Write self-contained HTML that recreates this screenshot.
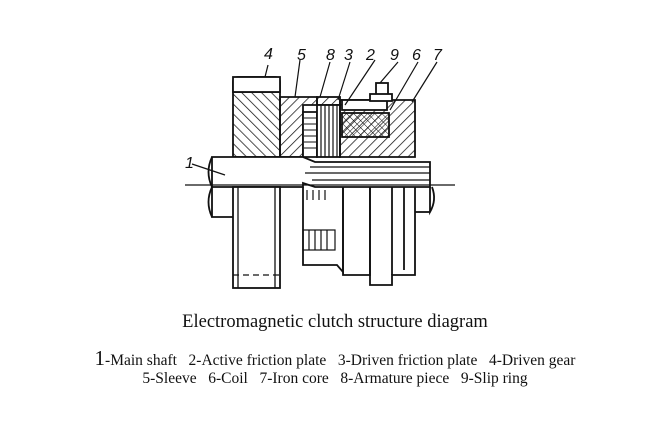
<!DOCTYPE html>
<html><head><style>
body{margin:0;background:#fff;width:650px;height:421px;overflow:hidden;font-family:"Liberation Serif",serif;color:#111}
.t{position:absolute;left:10px;width:650px;text-align:center;white-space:nowrap}
</style></head><body>
<svg width="650" height="421" style="position:absolute;left:0;top:0">
<defs>
<pattern id="h" width="7" height="7" patternUnits="userSpaceOnUse" patternTransform="rotate(45)"><line x1="0" y1="0" x2="0" y2="7" stroke="#111" stroke-width="1.5"/></pattern>
<pattern id="h2" width="7" height="7" patternUnits="userSpaceOnUse" patternTransform="rotate(-45)"><line x1="0" y1="0" x2="0" y2="7" stroke="#111" stroke-width="1.5"/></pattern>
<pattern id="x" width="5" height="5" patternUnits="userSpaceOnUse" patternTransform="rotate(45)"><path d="M0 0V5M0 0H5" stroke="#111" stroke-width="1.1"/></pattern>
</defs>
<g stroke="#111" stroke-width="1.8" fill="none">
<path d="M233 157V82Q233 77 238 77H275Q280 77 280 82V157Z" fill="url(#h2)"/>
<line x1="233" y1="92" x2="280" y2="92"/>
<rect x="233" y="77" width="47" height="15" fill="#fff"/>
<path d="M280 97H317V105H303V157H280Z" fill="url(#h)"/>
<path d="M303 112H317V157H303Z" fill="#fff"/>
<g stroke-width="1">
<line x1="304" y1="118" x2="316" y2="118"/><line x1="304" y1="124" x2="316" y2="124"/><line x1="304" y1="130" x2="316" y2="130"/><line x1="304" y1="136" x2="316" y2="136"/><line x1="304" y1="142" x2="316" y2="142"/><line x1="304" y1="148" x2="316" y2="148"/>
</g>
<rect x="317" y="97" width="23" height="8" fill="url(#h)"/>
<rect x="317" y="105" width="23" height="52" fill="#fff"/>
<g stroke-width="1.2"><line x1="321" y1="105" x2="321" y2="157"/><line x1="325" y1="105" x2="325" y2="157"/><line x1="329" y1="105" x2="329" y2="157"/><line x1="333" y1="105" x2="333" y2="157"/><line x1="337" y1="105" x2="337" y2="157"/></g>
<path d="M340 100H415V157H340Z" fill="url(#h)"/>
<rect x="342" y="113" width="47" height="24" fill="url(#x)"/>
<rect x="342" y="100" width="45" height="10" fill="#fff"/>
<rect x="376" y="83" width="12" height="14" fill="#fff"/>
<rect x="370" y="94" width="22" height="7" fill="#fff"/>
<path d="M212 157H303L315 162H430V187H315L303 183V187H212Z" fill="#fff"/>
<g stroke-width="1.2"><line x1="310" y1="167" x2="430" y2="167"/><line x1="305" y1="173" x2="430" y2="173"/><line x1="312" y1="180" x2="430" y2="180"/></g>
<path d="M212 157Q205 172 212 187" />
<path d="M212 187V217H233"/>
<path d="M212 187Q205 202 212 217"/>
<path d="M430 187V212Q437 200 432 187"/>
<path d="M415 212H430"/>
<line x1="185" y1="185" x2="455" y2="185" stroke-width="1.3"/>
<rect x="233" y="187" width="47" height="101" fill="#fff"/>
<line x1="238" y1="187" x2="238" y2="288" stroke-width="1.3"/>
<line x1="275" y1="187" x2="275" y2="288" stroke-width="1.3"/>
<line x1="233" y1="275" x2="280" y2="275" stroke-dasharray="6 4" stroke-width="1.2"/>
<path d="M303 187V265H337L343 272V187"/>
<path d="M343 187V275H370V187"/>
<path d="M370 187V285H392V275H415V187"/>
<path d="M392 187V275"/>
<path d="M404 187V270"/>
<g stroke-width="1.2">
<line x1="307" y1="190" x2="307" y2="200"/><line x1="313" y1="190" x2="313" y2="200"/><line x1="319" y1="190" x2="319" y2="200"/><line x1="325" y1="190" x2="325" y2="200"/>
<rect x="303" y="230" width="32" height="20"/>
<line x1="309" y1="230" x2="309" y2="250"/><line x1="315" y1="230" x2="315" y2="250"/><line x1="321" y1="230" x2="321" y2="250"/><line x1="327" y1="230" x2="327" y2="250"/>
</g>
<g stroke-width="1.2">
<line x1="192" y1="164" x2="225" y2="175"/>
<line x1="268" y1="65" x2="265" y2="77"/>
<line x1="300" y1="60" x2="295" y2="97"/>
<line x1="330" y1="62" x2="320" y2="97"/>
<line x1="350" y1="62" x2="338" y2="100"/>
<line x1="375" y1="60" x2="345" y2="105"/>
<line x1="398" y1="62" x2="380" y2="83"/>
<line x1="418" y1="62" x2="390" y2="110"/>
<line x1="437" y1="62" x2="412" y2="102"/>
</g>
</g>
<g font-family="Liberation Sans,sans-serif" font-style="italic" font-size="16" fill="#111">
<text x="185" y="168">1</text>
<text x="264" y="59">4</text>
<text x="297" y="60">5</text>
<text x="326" y="60">8</text>
<text x="344" y="60">3</text>
<text x="366" y="60">2</text>
<text x="390" y="60">9</text>
<text x="412" y="60">6</text>
<text x="433" y="60">7</text>
</g>
</svg>
<div class="t" style="top:312px;font-size:18.5px">Electromagnetic clutch structure diagram</div>
<div class="t" style="top:346px;font-size:15.5px"><span style="font-size:21px">1</span>-Main shaft&nbsp;&nbsp; 2-Active friction plate&nbsp;&nbsp; 3-Driven friction plate&nbsp;&nbsp; 4-Driven gear</div>
<div class="t" style="top:370px;font-size:15.5px">5-Sleeve&nbsp;&nbsp; 6-Coil&nbsp;&nbsp; 7-Iron core&nbsp;&nbsp; 8-Armature piece&nbsp;&nbsp; 9-Slip ring</div>
</body></html>
